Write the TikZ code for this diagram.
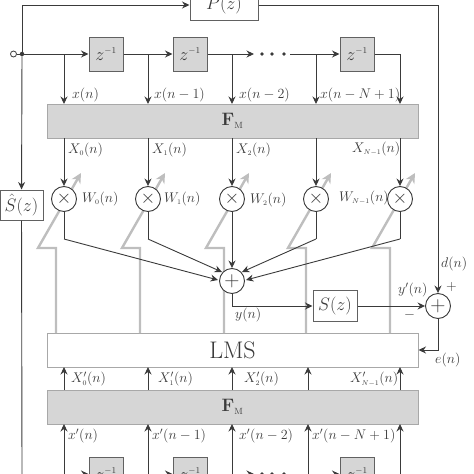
\RequirePackage{fix-cm}
\documentclass[tikz,border=0pt]{standalone}
\usetikzlibrary{arrows.meta}
\definecolor{ink}{HTML}{3A3A3A}
\definecolor{blockfill}{HTML}{D6D6D6}
\definecolor{blockedge}{HTML}{A8A8A8}
\definecolor{greyarrow}{HTML}{BEBEBE}
\tikzset{
  wire/.style={draw=ink,line width=0.9pt},
  arr/.style={wire,-{Stealth[length=7.5pt,width=7pt]}},
  fat/.style={draw=greyarrow,line width=2.4pt,-{Stealth[length=10pt,width=10pt]},line join=miter},
  zbox/.style={draw=ink!80,fill=blockfill,line width=1pt,minimum width=34pt,minimum height=34pt,inner sep=0pt,text=ink,font=\fontsize{18}{18}\selectfont},
  wbox/.style={draw=ink!80,fill=white,line width=1pt,inner sep=0pt,text=ink,font=\fontsize{18}{18}\selectfont},
  band/.style={draw=blockedge,fill=blockfill,line width=1pt,minimum width=371pt,minimum height=34pt,inner sep=0pt,text=ink,font=\fontsize{18}{18}\selectfont},
  op/.style={circle,draw=ink,fill=white,line width=0.9pt,minimum size=25pt,inner sep=0pt,text=ink},
  lab/.style={inner sep=0pt,anchor=west,text=ink,font=\fontsize{14}{14}\selectfont},
  dotn/.style={circle,fill=ink,inner sep=0pt,minimum size=4.5pt},
}
\newcommand{\zinv}{$z^{\scriptscriptstyle\mathrm{-1}}$}
\newcommand{\fm}{$\mathbf{F}_{\scriptscriptstyle\mathrm{M}}$}
\begin{document}
\begin{tikzpicture}[x=1pt,y=-1pt]
\useasboundingbox (0,0) rectangle (474,474);
\clip (0,0) rectangle (474,474);
% blocks
\node[band] (f1) at (232.5,121) {\fm};
\node[band,fill=white] (lms) at (232.5,350) {\fontsize{24}{24}\selectfont LMS};
\node[band] (f2) at (232.5,407) {\fm};
% grey adaptation arrows
\foreach \x/\t in {56/81,140/165,224/249,306/331,390/415}{
  \coordinate (gs\x) at (\x,333);
  \draw[fat] (gs\x) -- (\x,248) -- (\x-18,248) -- (\t,173);
}
% boxes
\node[wbox,minimum width=68pt,minimum height=30pt] (p) at (224,5) {$P(z)$};
\node[zbox] (z1) at (106,54) {\zinv};
\node[zbox] (z2) at (190,54) {\zinv};
\node[zbox] (z3) at (357,54) {\zinv};
\node[wbox,minimum width=43pt,minimum height=30pt] (sh) at (21.5,205) {$\hat S(z)$};
\node[wbox,minimum width=44pt,minimum height=31pt] (s) at (335,306) {$S(z)$};
\node[zbox] (b1) at (106,474) {\zinv};
\node[zbox] (b2) at (190,474) {\zinv};
\node[zbox] (b3) at (357,474) {\zinv};
% operators
\foreach \n/\x in {m0/64,m1/148,m2/232,m3/316,m4/400}
  \node[op,font=\fontsize{19}{19}\selectfont] (\n) at (\x,199) {$\times$};
\node[op,font=\fontsize{21}{21}\selectfont] (sum) at (232,281) {$+$};
\node[op,font=\fontsize{21}{21}\selectfont] (err) at (438,306) {$+$};
% input
\node[circle,draw=ink,fill=white,line width=0.8pt,inner sep=0pt,minimum size=6pt] (in) at (13.5,54) {};
\node[dotn] (j) at (22,54) {};
\draw[wire] (in) -- (j);
\draw[arr] (j) -- (z1);
\draw[arr] (j) |- (p.west);
\draw[arr] (j) -- (sh);
\coordinate (lb) at (22,474);
\draw[wire] (sh) -- (lb);
\draw[arr] (p.east) -| (err);
\draw[arr] (z1) -- (z2);
\coordinate (d1) at (254,54);
\coordinate (d2) at (290,54);
\draw[arr] (z2) -- (d1);
\foreach \x in {262,272,284} \node[dotn,minimum size=3.6pt] (dt\x) at (\x,54) {};
\draw[arr] (d2) -- (z3);
% tap lines
\foreach \n/\x in {m0/64,m1/148,m2/232,m3/316}{
  \coordinate (t\n) at (\x,54);
  \draw[arr] (t\n) -- (\x,104);
  \draw[arr] (\x,138) -- (\n);
}
\draw[arr] (z3.east) -| (400,104);
\draw[arr] (400,138) -- (m4);
% outputs to sum
\foreach \n/\x/\tx/\ty in {m0/64/218/280,m1/148/222/272,m3/316/242/272,m4/400/246/280}{
  \coordinate (k\n) at (\x,239);
  \coordinate (e\n) at (\tx,\ty);
  \draw[wire] (\n) -- (k\n);
  \draw[arr] (k\n) -- (e\n);
}
\draw[arr] (m2) -- (sum);
\draw[arr] (sum.south) |- (s.west);
\draw[arr] (s) -- (err);
\draw[arr] (err.south) |- (lms.east);
% lower section
\foreach \x in {64,148,232,308,400}{
  \draw[arr] (\x,390) -- (\x,367);
  \coordinate (bt\x) at (\x,474);
  \draw[arr] (bt\x) -- (\x,424);
}
\draw[arr] (64,474) -- (b1);
\draw[arr] (b1) -- (b2);
\coordinate (bd1) at (254,474);
\coordinate (bd2) at (290,474);
\draw[arr] (b2) -- (bd1);
\foreach \x in {262,272,284} \node[dotn,minimum size=3.6pt] (bdt\x) at (\x,474) {};
\draw[arr] (bd2) -- (b3);
% labels
\node[lab] (l1) at (72,95) {$x(n)$};
\node[lab] (l2) at (154,95) {$x(n-1)$};
\node[lab] (l3) at (239,95) {$x(n-2)$};
\node[lab] (l4) at (320,95) {$x(n-N+1)$};
\node[lab] (l5) at (68,150) {$X_{\scriptscriptstyle 0}(n)$};
\node[lab] (l6) at (152,150) {$X_{\scriptscriptstyle 1}(n)$};
\node[lab] (l7) at (236,150) {$X_{\scriptscriptstyle 2}(n)$};
\node[lab] (l8) at (352,149) {$X_{\scriptscriptstyle N-1}(n)$};
\node[lab] (l9) at (82,199) {$W_{\scriptscriptstyle 0}(n)$};
\node[lab] (l10) at (164,199) {$W_{\scriptscriptstyle 1}(n)$};
\node[lab] (l11) at (250,200) {$W_{\scriptscriptstyle 2}(n)$};
\node[lab] (l12) at (339,198) {$W_{\scriptscriptstyle N-1}(n)$};
\node[lab] (l13) at (235,315) {$y(n)$};
\node[lab] (l14) at (398,290) {$y^{\prime}(n)$};
\node[lab] (l15) at (441,264) {$d(n)$};
\node[lab] (l16) at (446,287) {$+$};
\node[lab] (l17) at (404,315) {$-$};
\node[lab] (l18) at (435,360) {$e(n)$};
\node[lab] (l19) at (71,379) {$X^{\prime}_{\scriptscriptstyle 0}(n)$};
\node[lab] (l20) at (158,379) {$X^{\prime}_{\scriptscriptstyle 1}(n)$};
\node[lab] (l21) at (244,379) {$X^{\prime}_{\scriptscriptstyle 2}(n)$};
\node[lab] (l22) at (350,379) {$X^{\prime}_{\scriptscriptstyle N-1}(n)$};
\node[lab] (l23) at (68,436) {$x^{\prime}(n)$};
\node[lab] (l24) at (152,436) {$x^{\prime}(n-1)$};
\node[lab] (l25) at (239,436) {$x^{\prime}(n-2)$};
\node[lab] (l26) at (312,436) {$x^{\prime}(n-N+1)$};
\end{tikzpicture}
\end{document}
